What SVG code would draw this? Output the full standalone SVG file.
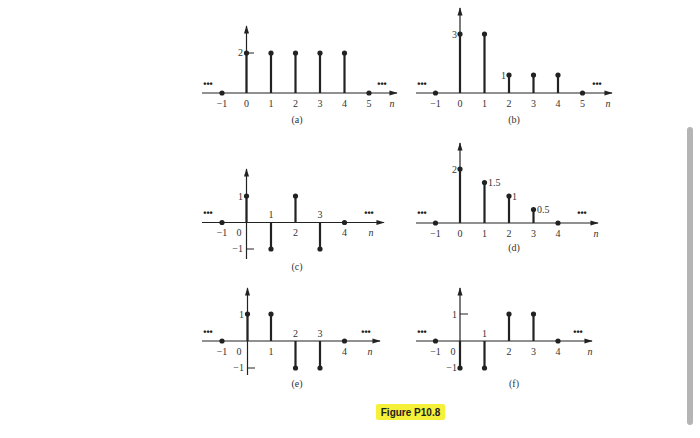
<svg xmlns="http://www.w3.org/2000/svg" width="700" height="438" viewBox="0 0 700 438">
<style>
.ax{stroke:#222;stroke-width:1.2;fill:none}
.st{stroke:#222;stroke-width:2.2}
.tk{stroke:#222;stroke-width:1}
text{font-family:"Liberation Serif",serif;font-size:10px;fill:#333}
.c{text-anchor:middle}
.r{text-anchor:end}
.n{font-style:italic}
.d{font-family:"Liberation Sans",sans-serif;font-size:9px;font-weight:bold;fill:#222}
</style>
<defs>
<marker id="ar" viewBox="0 0 10 10" refX="9" refY="5" markerWidth="7" markerHeight="7" orient="auto-start-reverse"><path d="M0,2 L10,5 L0,8 z" fill="#222"/></marker>
</defs>
<rect width="700" height="438" fill="#fff"/>
<rect x="687" y="127" width="6" height="298" rx="3" fill="#b5b5b5"/>

<g id="panel-a">
<line class="ax" x1="202" y1="93" x2="397" y2="93" marker-end="url(#ar)"/>
<line class="ax" x1="246.5" y1="93" x2="246.5" y2="26" marker-end="url(#ar)"/>
<line class="tk" x1="246.5" y1="53" x2="254" y2="53"/>
<g class="st"><line x1="246.5" y1="93" x2="246.5" y2="53"/><line x1="271" y1="93" x2="271" y2="53"/><line x1="295.5" y1="93" x2="295.5" y2="53"/><line x1="320" y1="93" x2="320" y2="53"/><line x1="344.5" y1="93" x2="344.5" y2="53"/></g>
<g fill="#222"><circle cx="222" cy="93" r="2.6"/><circle cx="246.5" cy="53" r="2.6"/><circle cx="271" cy="53" r="2.6"/><circle cx="295.5" cy="53" r="2.6"/><circle cx="320" cy="53" r="2.6"/><circle cx="344.5" cy="53" r="2.6"/><circle cx="369" cy="93" r="2.6"/></g>
<text class="r" x="243" y="56">2</text>
<text class="c" x="222" y="107">−1</text><text class="c" x="246.5" y="107">0</text><text class="c" x="271" y="107">1</text><text class="c" x="295.5" y="107">2</text><text class="c" x="320" y="107">3</text><text class="c" x="344.5" y="107">4</text><text class="c" x="369" y="107">5</text>
<text class="c n" x="392" y="107">n</text>
<text class="d c" x="208" y="87">•••</text><text class="d c" x="382" y="87">•••</text>
<text class="c" x="297" y="123">(a)</text>
</g>

<g id="panel-b">
<line class="ax" x1="416" y1="93" x2="612" y2="93" marker-end="url(#ar)"/>
<line class="ax" x1="460" y1="93" x2="460" y2="8" marker-end="url(#ar)"/>
<g class="st"><line x1="460" y1="93" x2="460" y2="34"/><line x1="484.5" y1="93" x2="484.5" y2="34"/><line x1="509" y1="93" x2="509" y2="75"/><line x1="533.5" y1="93" x2="533.5" y2="75"/><line x1="558" y1="93" x2="558" y2="75"/></g>
<g fill="#222"><circle cx="435.5" cy="93" r="2.6"/><circle cx="460" cy="34" r="2.6"/><circle cx="484.5" cy="34" r="2.6"/><circle cx="509" cy="75" r="2.6"/><circle cx="533.5" cy="75" r="2.6"/><circle cx="558" cy="75" r="2.6"/><circle cx="582.5" cy="93" r="2.6"/></g>
<text class="r" x="457" y="38">3</text><text class="r" x="506" y="79">1</text>
<text class="c" x="435.5" y="107">−1</text><text class="c" x="460" y="107">0</text><text class="c" x="484.5" y="107">1</text><text class="c" x="509" y="107">2</text><text class="c" x="533.5" y="107">3</text><text class="c" x="558" y="107">4</text><text class="c" x="582.5" y="107">5</text>
<text class="c n" x="608" y="107">n</text>
<text class="d c" x="422" y="87">•••</text><text class="d c" x="597" y="87">•••</text>
<text class="c" x="514" y="123">(b)</text>
</g>

<g id="panel-c">
<line class="ax" x1="202" y1="222.5" x2="384" y2="222.5" marker-end="url(#ar)"/>
<line class="ax" x1="246.5" y1="259" x2="246.5" y2="169" marker-end="url(#ar)"/>
<line class="tk" x1="246.5" y1="249" x2="254" y2="249"/>
<g class="st"><line x1="246.5" y1="222.5" x2="246.5" y2="196"/><line x1="271" y1="222.5" x2="271" y2="249"/><line x1="295.5" y1="222.5" x2="295.5" y2="196"/><line x1="320" y1="222.5" x2="320" y2="249"/></g>
<g fill="#222"><circle cx="222" cy="222.5" r="2.6"/><circle cx="246.5" cy="196" r="2.6"/><circle cx="271" cy="249" r="2.6"/><circle cx="295.5" cy="196" r="2.6"/><circle cx="320" cy="249" r="2.6"/><circle cx="344.5" cy="222.5" r="2.6"/></g>
<text class="r" x="243" y="200">1</text><text class="r" x="243" y="252">−1</text>
<text class="c" x="271" y="218">1</text><text class="c" x="320" y="218">3</text>
<text class="c" x="222" y="236">−1</text><text class="c" x="239" y="236">0</text><text class="c" x="295.5" y="236">2</text><text class="c" x="344.5" y="236">4</text>
<text class="c n" x="371" y="236">n</text>
<text class="d c" x="208" y="216">•••</text><text class="d c" x="369" y="216">•••</text>
<text class="c" x="297" y="270">(c)</text>
</g>

<g id="panel-d">
<line class="ax" x1="416" y1="223" x2="598" y2="223" marker-end="url(#ar)"/>
<line class="ax" x1="460" y1="223" x2="460" y2="143" marker-end="url(#ar)"/>
<g class="st"><line x1="460" y1="223" x2="460" y2="169"/><line x1="484.5" y1="223" x2="484.5" y2="182.5"/><line x1="509" y1="223" x2="509" y2="196"/><line x1="533.5" y1="223" x2="533.5" y2="209.5"/></g>
<g fill="#222"><circle cx="435.5" cy="223" r="2.6"/><circle cx="460" cy="169" r="2.6"/><circle cx="484.5" cy="182.5" r="2.6"/><circle cx="509" cy="196" r="2.6"/><circle cx="533.5" cy="209.5" r="2.6"/><circle cx="558" cy="223" r="2.6"/></g>
<text class="r" x="457" y="173">2</text><text x="488" y="186">1.5</text><text x="512" y="200">1</text><text x="537" y="213">0.5</text>
<text class="c" x="435.5" y="237">−1</text><text class="c" x="460" y="237">0</text><text class="c" x="484.5" y="237">1</text><text class="c" x="509" y="237">2</text><text class="c" x="533.5" y="237">3</text><text class="c" x="558" y="237">4</text>
<text class="c n" x="596" y="237">n</text>
<text class="d c" x="422" y="216">•••</text><text class="d c" x="582" y="216">•••</text>
<text class="c" x="514" y="251">(d)</text>
</g>

<g id="panel-e">
<line class="ax" x1="202" y1="341" x2="380" y2="341" marker-end="url(#ar)"/>
<line class="ax" x1="247.5" y1="375" x2="247.5" y2="288" marker-end="url(#ar)"/>
<line class="tk" x1="247.5" y1="368" x2="255" y2="368"/>
<g class="st"><line x1="247.5" y1="341" x2="247.5" y2="314"/><line x1="271" y1="341" x2="271" y2="314"/><line x1="295.5" y1="341" x2="295.5" y2="368"/><line x1="320" y1="341" x2="320" y2="368"/></g>
<g fill="#222"><circle cx="222" cy="341" r="2.6"/><circle cx="247.5" cy="314" r="2.6"/><circle cx="271" cy="314" r="2.6"/><circle cx="295.5" cy="368" r="2.6"/><circle cx="320" cy="368" r="2.6"/><circle cx="344.5" cy="341" r="2.6"/></g>
<text class="r" x="244" y="318">1</text><text class="r" x="244" y="371">−1</text>
<text class="c" x="295.5" y="337">2</text><text class="c" x="320" y="337">3</text>
<text class="c" x="222" y="355">−1</text><text class="c" x="239" y="355">0</text><text class="c" x="271" y="355">1</text><text class="c" x="344.5" y="355">4</text>
<text class="c n" x="370" y="355">n</text>
<text class="d c" x="208" y="335">•••</text><text class="d c" x="366" y="335">•••</text>
<text class="c" x="297" y="387">(e)</text>
</g>

<g id="panel-f">
<line class="ax" x1="416" y1="341" x2="592" y2="341" marker-end="url(#ar)"/>
<line class="ax" x1="460" y1="368" x2="460" y2="288" marker-end="url(#ar)"/>
<line class="tk" x1="460" y1="314" x2="468" y2="314"/>
<g class="st"><line x1="460" y1="341" x2="460" y2="368"/><line x1="484.5" y1="341" x2="484.5" y2="368"/><line x1="509" y1="341" x2="509" y2="314"/><line x1="533.5" y1="341" x2="533.5" y2="314"/></g>
<g fill="#222"><circle cx="435.5" cy="341" r="2.6"/><circle cx="460" cy="368" r="2.6"/><circle cx="484.5" cy="368" r="2.6"/><circle cx="509" cy="314" r="2.6"/><circle cx="533.5" cy="314" r="2.6"/><circle cx="558" cy="341" r="2.6"/></g>
<text class="r" x="457" y="318">1</text><text class="r" x="457" y="371">−1</text>
<text class="c" x="484.5" y="337">1</text>
<text class="c" x="435.5" y="355">−1</text><text class="c" x="453" y="355">0</text><text class="c" x="509" y="355">2</text><text class="c" x="533.5" y="355">3</text><text class="c" x="558" y="355">4</text>
<text class="c n" x="590" y="355">n</text>
<text class="d c" x="422" y="335">•••</text><text class="d c" x="578" y="335">•••</text>
<text class="c" x="514" y="387">(f)</text>
</g>

<g id="caption">
<rect x="376" y="404" width="69" height="16" rx="2" fill="#f5f03a"/>
<text class="c" x="410.5" y="416" style="font-family:'Liberation Sans',sans-serif;font-size:10px;font-weight:bold;fill:#222">Figure P10.8</text>
</g>
</svg>
